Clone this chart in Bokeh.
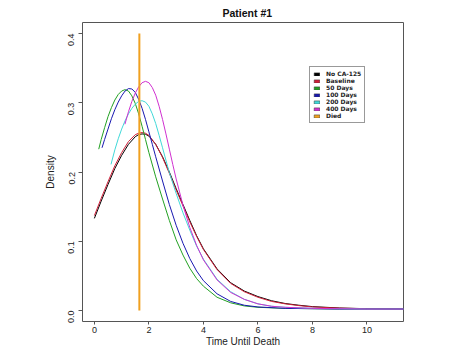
import math
from bokeh.plotting import figure
from bokeh.models import Range1d, FixedTicker, Legend, LegendItem
from bokeh.embed import file_html
from bokeh.resources import INLINE

# ---- data ----
x_black = [0, 0.25, 0.5, 0.75, 1.0, 1.25, 1.5, 1.625, 1.75, 1.875, 2.0, 2.25, 2.5, 2.75, 3.0,
           3.25, 3.5, 3.75, 4.0, 4.5, 5.0, 5.5, 6.0, 6.5, 7.0, 7.5, 8.0, 9.0, 10.0, 11.5]
y_black = [0.133, 0.158, 0.182, 0.205, 0.224, 0.240, 0.251, 0.254, 0.255, 0.2545, 0.252, 0.240,
           0.222, 0.200, 0.176, 0.153, 0.130, 0.108, 0.089, 0.060, 0.040, 0.028, 0.020, 0.014,
           0.010, 0.0075, 0.0055, 0.0035, 0.0025, 0.002]

x_red = x_black
y_red = [0.137, 0.162, 0.186, 0.209, 0.228, 0.244, 0.254, 0.256, 0.257, 0.256, 0.253, 0.240,
         0.221, 0.198, 0.174, 0.151, 0.128, 0.107, 0.088, 0.059, 0.039, 0.027, 0.019, 0.013,
         0.0095, 0.007, 0.005, 0.0033, 0.0024, 0.002]

x_green = [0.16, 0.25, 0.375, 0.5, 0.625, 0.75, 0.875, 1.0, 1.125, 1.25, 1.375, 1.5, 1.625,
           1.75, 1.875, 2.0, 2.25, 2.5, 2.75, 3.0, 3.25, 3.5, 3.75, 4.0, 4.5, 5.0, 5.5, 6.0,
           7.0, 8.0, 9.0, 10.0, 11.5]
y_green = [0.233, 0.247, 0.264, 0.280, 0.293, 0.304, 0.312, 0.317, 0.319, 0.317, 0.310, 0.299,
           0.284, 0.266, 0.247, 0.228, 0.193, 0.161, 0.130, 0.102, 0.080, 0.061, 0.046, 0.035,
           0.019, 0.011, 0.0065, 0.0045, 0.003, 0.0025, 0.002, 0.002, 0.002]

x_blue = [0.28, 0.375, 0.5, 0.625, 0.75, 0.875, 1.0, 1.125, 1.25, 1.375, 1.5, 1.625, 1.75,
          1.875, 2.0, 2.125, 2.25, 2.5, 2.75, 3.0, 3.25, 3.5, 3.75, 4.0, 4.5, 5.0, 5.5, 6.0,
          7.0, 8.0, 9.0, 10.0, 11.5]
y_blue = [0.235, 0.247, 0.262, 0.277, 0.290, 0.301, 0.310, 0.317, 0.3205, 0.320, 0.315, 0.305,
          0.292, 0.276, 0.258, 0.240, 0.222, 0.187, 0.153, 0.123, 0.097, 0.075, 0.057, 0.043,
          0.024, 0.013, 0.0075, 0.005, 0.003, 0.0025, 0.002, 0.002, 0.002]

x_cyan = [0.61, 0.75, 0.875, 1.0, 1.125, 1.25, 1.375, 1.5, 1.625, 1.75, 1.875, 2.0, 2.125,
          2.25, 2.375, 2.5, 2.625, 2.75, 3.0, 3.25, 3.5, 3.75, 4.0, 4.5, 5.0, 5.5, 6.0, 6.5,
          7.0, 8.0, 9.0, 10.0, 11.5]
y_cyan = [0.211, 0.232, 0.248, 0.262, 0.274, 0.284, 0.292, 0.298, 0.302, 0.303, 0.301, 0.295,
          0.284, 0.270, 0.253, 0.235, 0.217, 0.199, 0.169, 0.141, 0.116, 0.093, 0.074, 0.045,
          0.027, 0.016, 0.0095, 0.006, 0.0045, 0.003, 0.0025, 0.002, 0.002]

x_magenta = [1.12, 1.25, 1.375, 1.5, 1.625, 1.75, 1.875, 2.0, 2.125, 2.25, 2.375, 2.5, 2.625,
             2.75, 2.875, 3.0, 3.25, 3.5, 3.75, 4.0, 4.5, 5.0, 5.5, 6.0, 6.5, 7.0, 8.0, 9.0,
             10.0, 11.5]
y_magenta = [0.269, 0.287, 0.302, 0.314, 0.323, 0.329, 0.331, 0.329, 0.322, 0.311, 0.295, 0.276,
             0.255, 0.233, 0.211, 0.190, 0.152, 0.120, 0.094, 0.073, 0.044, 0.026, 0.016,
             0.0095, 0.006, 0.0045, 0.003, 0.0025, 0.002, 0.002]

died_x = [1.65, 1.65]
died_y = [0.0, 0.4]

series_names = ["No CA-125", "Baseline", "50 Days", "100 Days", "200 Days", "400 Days", "Died"]
series_colors = ["#000000", "#D0203A", "#22A022", "#1818B0", "#40D8D8", "#D030D0", "#F0A020"]

x_ticks = [0, 2, 4, 6, 8, 10]
y_ticks = [0.0, 0.1, 0.2, 0.3, 0.4]
y_tick_labels = ["0.0", "0.1", "0.2", "0.3", "0.4"]

FONT = "Liberation Sans"

p = figure(width=458, height=349, output_backend="svg", toolbar_location=None,
           x_range=Range1d(-0.436, 11.34), y_range=Range1d(-0.016, 0.416),
           title="Patient #1", min_border_left=82, min_border_right=55,
           min_border_top=0, min_border_bottom=0)
# the bottom strip below the x-axis title runs into the page margin, as the original is cut there
p.margin = (0, 0, -10, 0)

p.title.align = "left"
p.title.offset = 140
p.title.text_font = FONT
p.title.text_font_size = "10.5px"
p.title.text_font_style = "bold"
p.title.text_color = "#111111"
p.title.standoff = 8

p.grid.visible = False
p.outline_line_color = "#555555"
p.outline_line_width = 1
p.background_fill_color = "white"
p.border_fill_color = "white"

for ax in (p.xaxis[0], p.yaxis[0]):
    ax.axis_line_color = None
    ax.minor_tick_line_color = None
    ax.major_tick_line_color = "#555555"
    ax.major_tick_in = 0
    ax.major_label_text_font = FONT
    ax.major_label_text_color = "#222222"
    ax.major_label_text_line_height = 1.0
    ax.axis_label_text_font = FONT
    ax.axis_label_text_font_style = "normal"
    ax.axis_label_text_color = "#222222"
    ax.axis_label_text_line_height = 1.0

p.xaxis.ticker = FixedTicker(ticks=x_ticks)
p.xaxis.major_tick_out = 3
p.xaxis.major_label_standoff = 2
p.xaxis.major_label_text_font_size = "9px"
p.xaxis.axis_label = "Time Until Death"
p.xaxis.axis_label_text_font_size = "10px"
p.xaxis.axis_label_standoff = 0

p.yaxis.ticker = FixedTicker(ticks=y_ticks)
p.yaxis.major_label_overrides = {t: l for t, l in zip(y_ticks, y_tick_labels)}
p.yaxis.major_label_orientation = math.pi / 2
p.yaxis.major_tick_out = 4
p.yaxis.major_label_standoff = 7
p.yaxis.major_label_text_font_size = "9px"
p.yaxis.axis_label = "Density"
p.yaxis.axis_label_text_font_size = "10px"
p.yaxis.axis_label_standoff = 7

xs = [x_black, x_red, x_green, x_blue, x_cyan, x_magenta, died_x]
ys = [y_black, y_red, y_green, y_blue, y_cyan, y_magenta, died_y]
for i, (xx, yy) in enumerate(zip(xs, ys)):
    lw = 2 if i == 6 else 1
    p.line(xx, yy, line_color=series_colors[i], line_width=lw)

# legend swatches (filled boxes, as in the original); no visible data
nan = float("nan")
items = []
for name, col in zip(series_names, series_colors):
    r = p.quad(left=[nan], right=[nan], top=[nan], bottom=[nan], fill_color=col,
               line_color="#333333", line_width=0.5)
    items.append(LegendItem(label=name, renderers=[r]))

legend = Legend(items=items, location=(227, 198))
legend.label_text_font = "DejaVu Sans"
legend.label_text_font_size = "6px"
legend.label_text_font_style = "bold"
legend.label_text_color = "#222222"
legend.glyph_width = 7
legend.glyph_height = 4
legend.label_height = 6
legend.label_standoff = 6
legend.spacing = 0
legend.padding = 3
legend.margin = 0
legend.border_line_color = "#333333"
legend.border_line_width = 1
legend.background_fill_color = "white"
legend.background_fill_alpha = 1
p.add_layout(legend, "center")

open("out.html", "w").write(file_html(p, INLINE))
